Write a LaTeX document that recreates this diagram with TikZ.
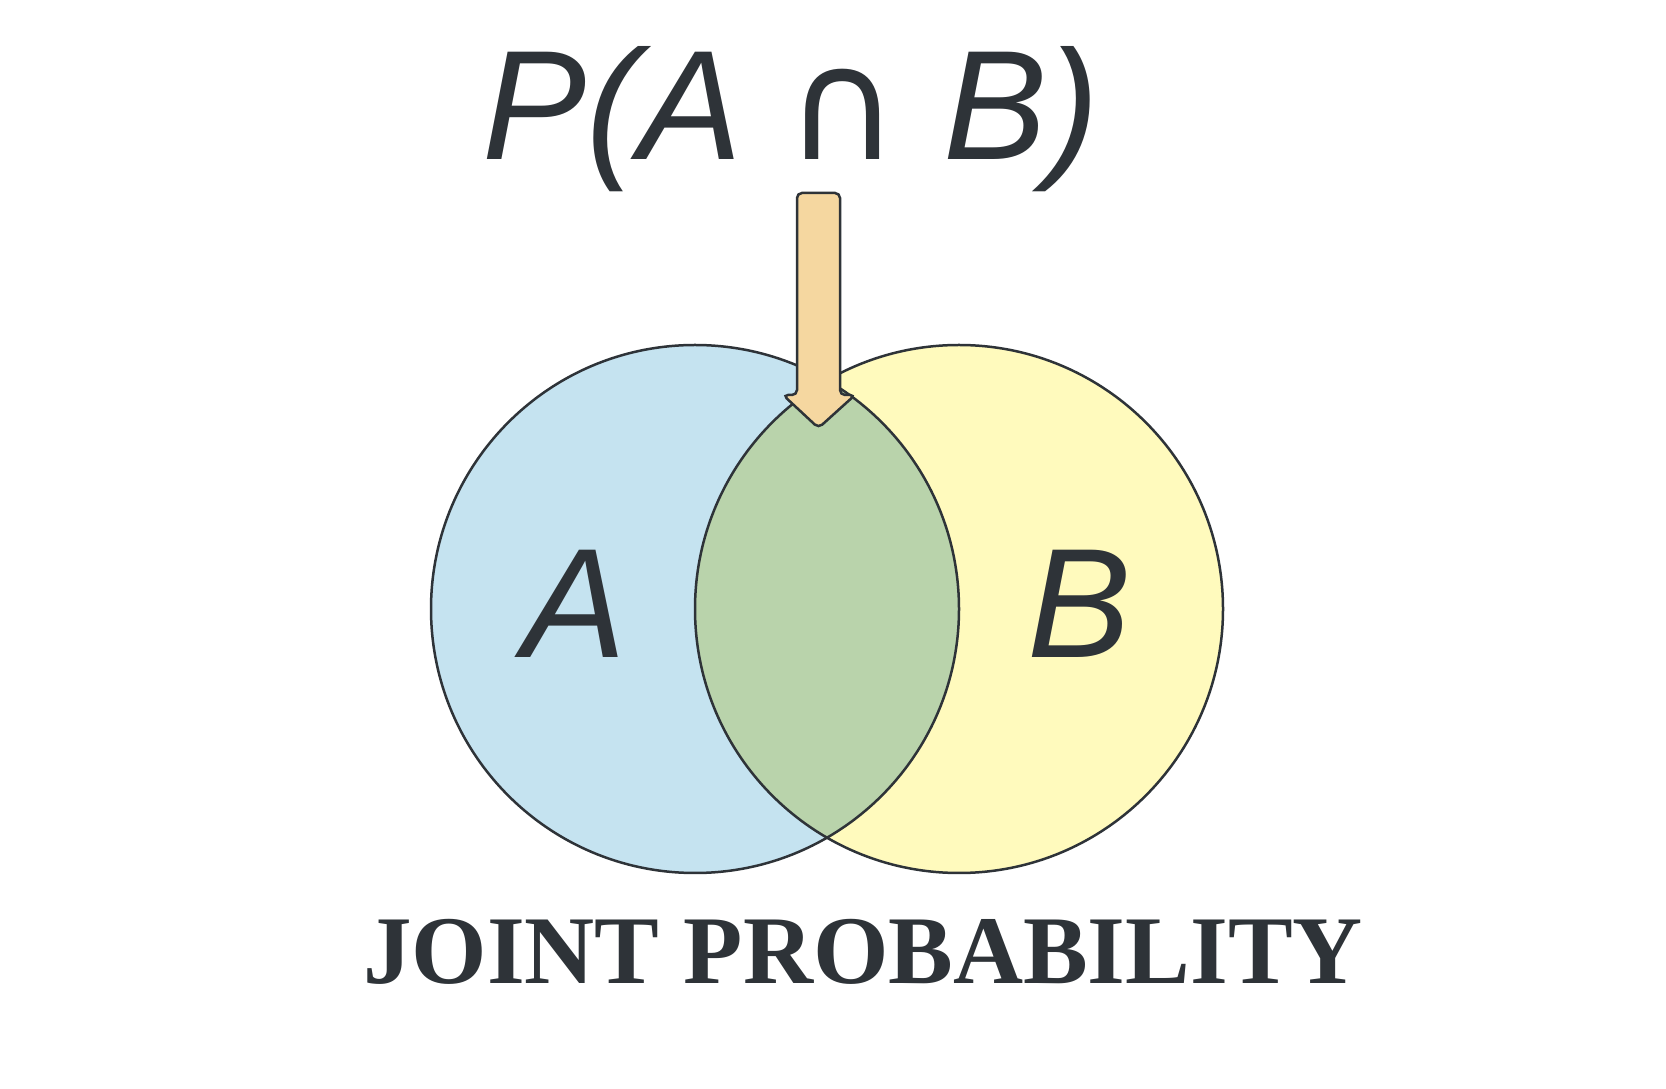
\documentclass[tikz,border=0pt]{standalone}
\usepackage{fontspec}
\setmainfont{Liberation Serif}
\newfontfamily\lsans{Liberation Sans}
\newfontfamily\dvs{DejaVu Sans}
\definecolor{ink}{HTML}{2E3338}
\definecolor{cblue}{HTML}{C5E3F0}
\definecolor{cyel}{HTML}{FFFABD}
\definecolor{cgreen}{HTML}{B9D3AB}
\definecolor{carrow}{HTML}{F5D7A0}
\begin{document}
\begin{tikzpicture}[x=1pt,y=1pt,
  ring/.style={draw=ink,line width=2.5pt},
  lbl/.style={text=ink,inner sep=0pt,anchor=base}]
\useasboundingbox[fill=white] (0,0) rectangle (1666,1088);
\coordinate (ca) at (695,479);
\coordinate (cb) at (959,479);
\fill[cblue] (ca) circle (264);
\fill[cyel] (cb) circle (264);
\begin{scope}
\clip (ca) circle (264);
\fill[cgreen] (cb) circle (264);
\end{scope}
\draw[ring] (ca) circle (264);
\draw[ring] (cb) circle (264);
\node[lbl,font=\lsans\itshape\fontsize{156}{160}\selectfont] (la) at (575,430) {A};
\node[lbl,font=\lsans\itshape\fontsize{156}{160}\selectfont] (lb) at (1080,430) {B};
\node[lbl,font=\lsans\itshape\fontsize{156}{160}\selectfont] (title) at (791,928) {P(A {\dvs\upshape∩} B)};
\node[lbl,font=\bfseries\fontsize{97}{100}\selectfont] (jp) at (863,105) {JOINT PROBABILITY};
\draw[draw=ink,fill=carrow,line width=2.5pt,rounded corners=5pt]
  (797,895) -- (840,895) -- (840,693) -- (855,693) -- (818.5,660) -- (783,693) -- (797,693) -- cycle;
\end{tikzpicture}
\end{document}
